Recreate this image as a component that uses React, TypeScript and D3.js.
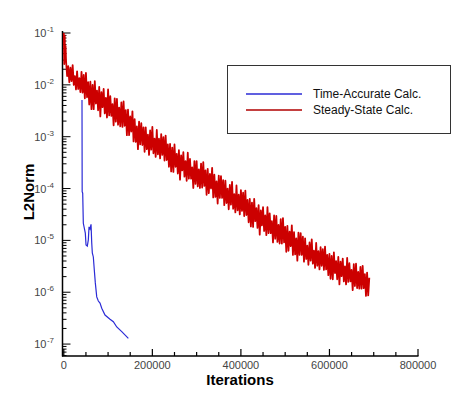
import React, { useEffect, useRef } from 'react';
import * as d3 from 'd3';

// Steady-state run: iterations (thousands) and log10 of the L2 norm
const steadyIterK = [
  0, 1, 2, 3, 4,
  5, 7.5, 10, 12.5, 15, 17.5, 20, 22.5, 25, 27.5, 30, 32.5, 35, 37.5, 40, 42.5, 45, 47.5, 50, 52.5,
  55, 57.5, 60, 62.5, 65, 67.5, 70, 72.5, 75, 77.5, 80, 82.5, 85, 87.5, 90, 92.5, 95, 97.5, 100, 102.5,
  105, 107.5, 110, 112.5, 115, 117.5, 120, 122.5, 125, 127.5, 130, 132.5, 135, 137.5, 140, 142.5, 145, 147.5, 150, 152.5,
  155, 157.5, 160, 162.5, 165, 167.5, 170, 172.5, 175, 177.5, 180, 182.5, 185, 187.5, 190, 192.5, 195, 197.5, 200, 202.5,
  205, 207.5, 210, 212.5, 215, 217.5, 220, 222.5, 225, 227.5, 230, 232.5, 235, 237.5, 240, 242.5, 245, 247.5, 250, 252.5,
  255, 257.5, 260, 262.5, 265, 267.5, 270, 272.5, 275, 277.5, 280, 282.5, 285, 287.5, 290, 292.5, 295, 297.5, 300, 302.5,
  305, 307.5, 310, 312.5, 315, 317.5, 320, 322.5, 325, 327.5, 330, 332.5, 335, 337.5, 340, 342.5, 345, 347.5, 350, 352.5,
  355, 357.5, 360, 362.5, 365, 367.5, 370, 372.5, 375, 377.5, 380, 382.5, 385, 387.5, 390, 392.5, 395, 397.5, 400, 402.5,
  405, 407.5, 410, 412.5, 415, 417.5, 420, 422.5, 425, 427.5, 430, 432.5, 435, 437.5, 440, 442.5, 445, 447.5, 450, 452.5,
  455, 457.5, 460, 462.5, 465, 467.5, 470, 472.5, 475, 477.5, 480, 482.5, 485, 487.5, 490, 492.5, 495, 497.5, 500, 502.5,
  505, 507.5, 510, 512.5, 515, 517.5, 520, 522.5, 525, 527.5, 530, 532.5, 535, 537.5, 540, 542.5, 545, 547.5, 550, 552.5,
  555, 557.5, 560, 562.5, 565, 567.5, 570, 572.5, 575, 577.5, 580, 582.5, 585, 587.5, 590, 592.5, 595, 597.5, 600, 602.5,
  605, 607.5, 610, 612.5, 615, 617.5, 620, 622.5, 625, 627.5, 630, 632.5, 635, 637.5, 640, 642.5, 645, 647.5, 650, 652.5,
  655, 657.5, 660, 662.5, 665, 667.5, 670, 672.5, 675, 677.5, 680, 682.5, 685, 687.5, 690,
];
const steadyLog = [
  -1.0, -1.6, -1.05, -1.55, -1.25,
  -1.53, -1.83, -1.64, -1.95, -1.67, -1.93, -1.62, -2.0, -1.83, -2.09, -1.74, -2.08, -1.87, -2.14, -1.75, -2.15, -1.81, -2.26, -1.77, -2.24, -1.95, -2.38, -1.94, -2.47,
  -2.0, -2.47, -1.93, -2.36, -2.11, -2.49, -2.04, -2.61, -2.14, -2.43, -2.08, -2.55, -2.25, -2.63, -2.09, -2.59, -2.22, -2.6, -2.37, -2.78, -2.26, -2.71, -2.27, -2.77,
  -2.44, -2.8, -2.34, -2.81, -2.32, -2.79, -2.49, -2.97, -2.48, -2.97, -2.61, -2.9, -2.51, -3.09, -2.66, -3.1, -2.8, -3.24, -2.71, -3.15, -2.74, -3.16, -2.82, -3.29,
  -2.82, -3.24, -2.96, -3.35, -2.88, -3.25, -2.81, -3.32, -3.04, -3.39, -2.87, -3.34, -3.04, -3.42, -2.95, -3.35, -3.01, -3.46, -2.98, -3.45, -3.15, -3.58, -3.14, -3.67,
  -3.21, -3.68, -3.15, -3.58, -3.33, -3.71, -3.26, -3.83, -3.36, -3.65, -3.3, -3.77, -3.47, -3.85, -3.31, -3.81, -3.43, -3.81, -3.59, -3.99, -3.47, -3.91, -3.47, -3.96,
  -3.63, -3.99, -3.52, -3.98, -3.49, -3.95, -3.65, -4.12, -3.62, -4.09, -3.72, -4.0, -3.6, -4.17, -3.73, -4.16, -3.86, -4.29, -3.75, -4.18, -3.76, -4.18, -3.84, -4.32,
  -3.85, -4.28, -4.0, -4.4, -3.93, -4.31, -3.87, -4.39, -4.11, -4.46, -3.94, -4.42, -4.12, -4.5, -4.03, -4.43, -4.08, -4.53, -4.04, -4.51, -4.22, -4.65, -4.2, -4.73,
  -4.27, -4.74, -4.2, -4.63, -4.38, -4.76, -4.32, -4.89, -4.42, -4.71, -4.36, -4.82, -4.52, -4.9, -4.36, -4.86, -4.48, -4.86, -4.63, -5.04, -4.52, -4.97, -4.53, -5.03,
  -4.7, -5.06, -4.59, -5.06, -4.57, -5.04, -4.74, -5.22, -4.72, -5.2, -4.83, -5.11, -4.71, -5.28, -4.84, -5.27, -4.96, -5.39, -4.85, -5.28, -4.86, -5.28, -4.93, -5.41,
  -4.96, -5.36, -5.1, -5.47, -5.04, -5.39, -4.98, -5.45, -5.2, -5.53, -5.05, -5.49, -5.21, -5.56, -5.13, -5.49, -5.17, -5.57, -5.12, -5.56, -5.28, -5.67, -5.26, -5.74,
  -5.3, -5.75, -5.23, -5.63, -5.4, -5.75, -5.32, -5.85, -5.41, -5.69, -5.35, -5.79, -5.5, -5.85, -5.34, -5.8, -5.44, -5.79, -5.57, -5.96, -5.46, -5.88, -5.45, -5.92,
  -5.61, -5.93, -5.51, -5.93, -5.49, -5.92, -5.65, -6.07, -5.62, -6.06, -5.72,
];

// Time-accurate run: iterations and log10 of the L2 norm
const accurateIter = [
  41100, 41500, 42700, 44100, 48600, 50200, 53100, 55400, 57000, 59200, 61500, 63100, 64400,
  66700, 68900, 71200, 74400, 78000, 81800, 85700, 93100, 104400, 111900, 119600, 130900, 145800,
];
const accurateLog = [
  -2.29, -4.06, -4.09, -4.67, -4.86, -5.09, -5.11, -4.99, -4.74, -4.78, -4.69, -5.05, -5.24,
  -5.32, -5.57, -5.82, -6.09, -6.17, -6.21, -6.31, -6.44, -6.52, -6.57, -6.67, -6.76, -6.89,
];

const xTicks = [0, 200000, 400000, 600000, 800000];
const yDecades = [-1, -2, -3, -4, -5, -6, -7];
const seriesNames = ['Time-Accurate Calc.', 'Steady-State Calc.'];

const BLUE = '#2b2bd6';
const RED = '#cc0000';
const FONT = '"Liberation Sans", Arial, sans-serif';

const App = () => {
  const svgRef = useRef<SVGSVGElement>(null);

  useEffect(() => {
    const svg = d3.select(svgRef.current);
    svg.selectAll('*').remove();

    const x = d3.scaleLinear().domain([0, 800000]).range([63.8, 418]);
    const y = d3.scaleLog().domain([Math.pow(10, -7.23), 0.1]).range([356, 33]);

    const g = svg.append('g');

    // x ticks: major every 200000, minor every 50000, pointing inward
    const xMinor = d3.range(0, 800001, 50000);
    g.selectAll('.xtick')
      .data(xMinor)
      .enter().append('line')
      .attr('x1', d => x(d)).attr('x2', d => x(d))
      .attr('y1', 356).attr('y2', d => (d % 200000 === 0 ? 349 : 352))
      .attr('stroke', '#000').attr('stroke-width', 1.2);

    // y ticks (log major + minor)
    const yMinor: number[] = [];
    for (let e = -8; e <= -2; e++) {
      for (let m = 1; m <= 9; m++) {
        const v = m * Math.pow(10, e);
        if (v >= y.domain()[0] && v <= 0.1) yMinor.push(v);
      }
    }
    yMinor.push(0.1);
    g.selectAll('.ytick')
      .data(yMinor)
      .enter().append('line')
      .attr('x1', 62.5).attr('x2', d => {
        const l = Math.log10(d);
        return Math.abs(l - Math.round(l)) < 1e-6 ? 70.5 : 66.5;
      })
      .attr('y1', d => y(d)).attr('y2', d => y(d))
      .attr('stroke', '#000').attr('stroke-width', 1);

    // axis lines
    g.append('line').attr('x1', 62.5).attr('x2', 62.5).attr('y1', 31).attr('y2', 356.5)
      .attr('stroke', '#000').attr('stroke-width', 1.5);
    g.append('line').attr('x1', 62).attr('x2', 418.5).attr('y1', 356).attr('y2', 356)
      .attr('stroke', '#000').attr('stroke-width', 1.5);

    // x tick labels
    g.selectAll('.xlab')
      .data(xTicks)
      .enter().append('text')
      .attr('x', d => x(d)).attr('y', 369)
      .attr('text-anchor', 'middle')
      .attr('font-family', FONT).attr('font-size', 11).attr('fill', '#444')
      .text(d => String(d));

    // y tick labels 10^n
    const ylab = g.selectAll('.ylab')
      .data(yDecades)
      .enter().append('text')
      .attr('x', 54).attr('y', d => y(Math.pow(10, d)) + 4)
      .attr('text-anchor', 'end')
      .attr('font-family', FONT).attr('font-size', 11).attr('fill', '#444');
    ylab.append('tspan').text('10');
    ylab.append('tspan').attr('font-size', 8).attr('dy', -5).attr('dx', 0.5).text(d => String(d));

    // axis titles
    g.append('text')
      .attr('x', 240).attr('y', 385)
      .attr('text-anchor', 'middle')
      .attr('font-family', FONT).attr('font-size', 15).attr('font-weight', 'bold')
      .text('Iterations');
    g.append('text')
      .attr('transform', 'translate(33.5,192) rotate(-90)')
      .attr('text-anchor', 'middle')
      .attr('font-family', FONT).attr('font-size', 15).attr('font-weight', 'bold')
      .text('L2Norm');

    const line = d3.line<[number, number]>()
      .x(d => x(d[0]))
      .y(d => y(Math.pow(10, d[1])));

    const steady = steadyIterK.map((it, i) => [it * 1000, steadyLog[i]] as [number, number]);
    const accurate = accurateIter.map((it, i) => [it, accurateLog[i]] as [number, number]);

    g.append('path').attr('d', line(steady))
      .attr('fill', 'none').attr('stroke', RED).attr('stroke-width', 1.8)
      .attr('stroke-linejoin', 'round');
    g.append('path').attr('d', line(accurate))
      .attr('fill', 'none').attr('stroke', BLUE).attr('stroke-width', 1.2);

    // legend
    const lg = g.append('g');
    lg.append('rect').attr('x', 227.5).attr('y', 65.5).attr('width', 223).attr('height', 68)
      .attr('fill', '#fff').attr('stroke', '#333').attr('stroke-width', 1);
    const colors = [BLUE, '#b00000'];
    seriesNames.forEach((name, i) => {
      const yy = 94 + i * 16;
      lg.append('line').attr('x1', 246).attr('x2', 302).attr('y1', yy).attr('y2', yy)
        .attr('stroke', colors[i]).attr('stroke-width', 1.3);
      lg.append('text').attr('x', 313).attr('y', yy + 4)
        .attr('font-family', FONT).attr('font-size', 12).attr('fill', '#111')
        .text(name);
    });
  }, []);

  return (
    <svg ref={svgRef} width={474} height={393}
      style={{ position: 'absolute', left: 0, top: 0, background: '#fff' }} />
  );
};

export default App;
